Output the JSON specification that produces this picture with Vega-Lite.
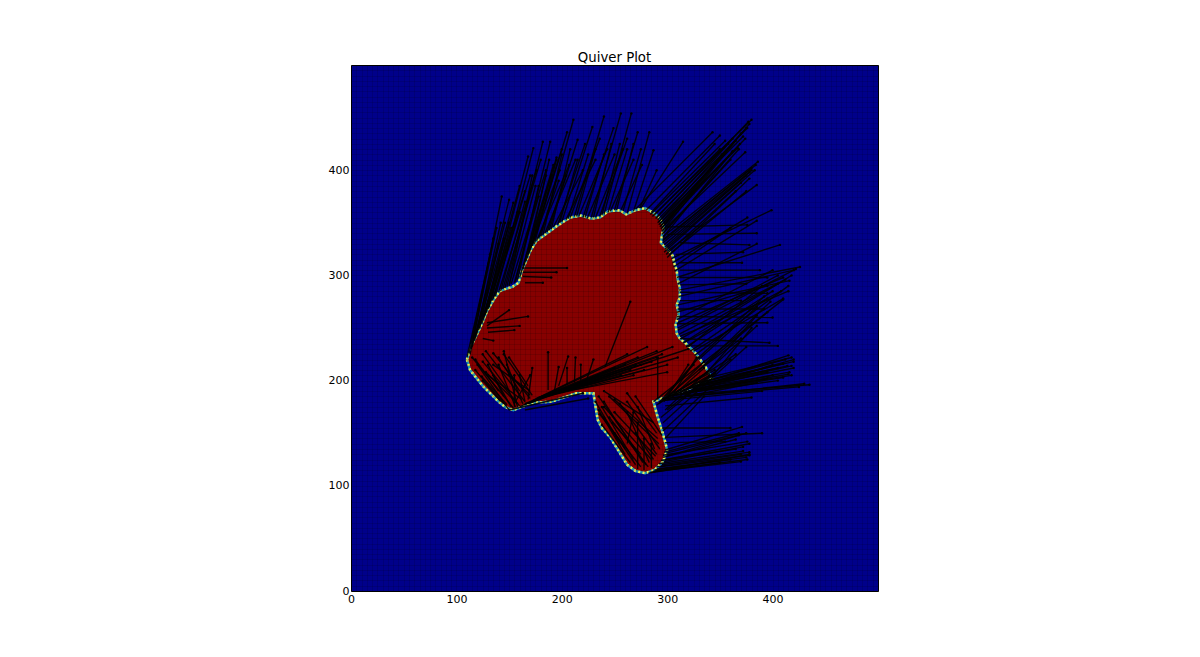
{"$schema":"https://vega.github.io/schema/vega-lite/v6.json","width":527,"height":526,"autosize":{"type":"none"},"padding":{"left":351,"top":65,"right":322,"bottom":66},"background":"white","title":{"text":"Quiver Plot","font":"DejaVu Sans","fontSize":13.3,"fontWeight":"normal","color":"black","offset":1},"view":{"fill":"#00008a","stroke":"black","strokeWidth":1},"datasets":{"outline":[{"i":1,"x":110,"y":220},{"i":2,"x":114,"y":233},{"i":3,"x":120,"y":245},{"i":4,"x":125,"y":256},{"i":5,"x":129,"y":266},{"i":6,"x":136,"y":278},{"i":7,"x":141,"y":285},{"i":8,"x":146,"y":287},{"i":9,"x":153,"y":289},{"i":10,"x":159,"y":293},{"i":11,"x":162,"y":304},{"i":12,"x":165,"y":311},{"i":13,"x":170,"y":323},{"i":14,"x":176,"y":333},{"i":15,"x":186,"y":340},{"i":16,"x":194,"y":346},{"i":17,"x":200,"y":350},{"i":18,"x":208,"y":355},{"i":19,"x":218,"y":357},{"i":20,"x":228,"y":354},{"i":21,"x":236,"y":355},{"i":22,"x":244,"y":361},{"i":23,"x":255,"y":362},{"i":24,"x":261,"y":358},{"i":25,"x":270,"y":362},{"i":26,"x":279,"y":364},{"i":27,"x":288,"y":359},{"i":28,"x":294,"y":353},{"i":29,"x":297,"y":346},{"i":30,"x":295,"y":338},{"i":31,"x":294,"y":331},{"i":32,"x":300,"y":325},{"i":33,"x":305,"y":319},{"i":34,"x":307,"y":311},{"i":35,"x":309,"y":305},{"i":36,"x":310,"y":296},{"i":37,"x":312,"y":288},{"i":38,"x":312,"y":279},{"i":39,"x":309,"y":272},{"i":40,"x":311,"y":263},{"i":41,"x":308,"y":253},{"i":42,"x":309,"y":245},{"i":43,"x":312,"y":240},{"i":44,"x":318,"y":235},{"i":45,"x":326,"y":227},{"i":46,"x":335,"y":215},{"i":47,"x":343,"y":202},{"i":48,"x":320,"y":192},{"i":49,"x":287,"y":180},{"i":50,"x":291,"y":165},{"i":51,"x":295,"y":153},{"i":52,"x":298,"y":142},{"i":53,"x":300,"y":134},{"i":54,"x":296,"y":123},{"i":55,"x":288,"y":115},{"i":56,"x":279,"y":112},{"i":57,"x":270,"y":114},{"i":58,"x":262,"y":120},{"i":59,"x":254,"y":133},{"i":60,"x":246,"y":146},{"i":61,"x":238,"y":155},{"i":62,"x":234,"y":163},{"i":63,"x":232,"y":175},{"i":64,"x":230,"y":188},{"i":65,"x":214,"y":188},{"i":66,"x":190,"y":180},{"i":67,"x":173,"y":179},{"i":68,"x":154,"y":172},{"i":69,"x":146,"y":175},{"i":70,"x":139,"y":181},{"i":71,"x":125,"y":195},{"i":72,"x":113,"y":210},{"i":73,"x":110,"y":220}],"arrows":[
{"x":113,"y":225,"x2":143,"y2":375},{"x":115,"y":232,"x2":150,"y2":372},{"x":117,"y":238,"x2":146,"y2":350},{"x":119,"y":244,"x2":154,"y2":369},{"x":121,"y":248,"x2":152,"y2":345},{"x":124,"y":254,"x2":158,"y2":360},{"x":126,"y":260,"x2":160,"y2":385},{"x":128,"y":264,"x2":165,"y2":380},{"x":131,"y":270,"x2":168,"y2":413},{"x":134,"y":276,"x2":170,"y2":395},{"x":137,"y":280,"x2":173,"y2":421},{"x":140,"y":284,"x2":176,"y2":400},{"x":144,"y":287,"x2":180,"y2":410},{"x":148,"y":290,"x2":182,"y2":427},{"x":152,"y":292,"x2":185,"y2":400},{"x":156,"y":294,"x2":189,"y2":427},{"x":160,"y":298,"x2":192,"y2":405},{"x":163,"y":306,"x2":195,"y2":412},{"x":166,"y":314,"x2":198,"y2":400},{"x":169,"y":322,"x2":200,"y2":420},{"x":172,"y":328,"x2":205,"y2":436},{"x":176,"y":333,"x2":207,"y2":405},{"x":180,"y":337,"x2":211,"y2":448},{"x":184,"y":340,"x2":213,"y2":410},{"x":188,"y":343,"x2":215,"y2":429},{"x":192,"y":346,"x2":220,"y2":400},{"x":196,"y":348,"x2":222,"y2":425},{"x":200,"y":351,"x2":229,"y2":441},{"x":204,"y":353,"x2":232,"y2":410},{"x":208,"y":355,"x2":236,"y2":430},{"x":212,"y":356,"x2":240,"y2":451},{"x":216,"y":356,"x2":243,"y2":420},{"x":220,"y":355,"x2":249,"y2":440},{"x":224,"y":354,"x2":250,"y2":415},{"x":228,"y":355,"x2":256,"y2":454},{"x":232,"y":355,"x2":258,"y2":420},{"x":236,"y":356,"x2":262,"y2":430},{"x":240,"y":358,"x2":266,"y2":454},{"x":246,"y":361,"x2":268,"y2":410},{"x":250,"y":362,"x2":272,"y2":436},{"x":256,"y":362,"x2":276,"y2":405},{"x":262,"y":359,"x2":283,"y2":436},{"x":268,"y":361,"x2":287,"y2":419},{"x":274,"y":364,"x2":290,"y2":400},
{"x":150,"y":291,"x2":175,"y2":385},{"x":155,"y":293,"x2":178,"y2":375},{"x":170,"y":325,"x2":190,"y2":395},{"x":178,"y":335,"x2":197,"y2":390},{"x":186,"y":341,"x2":204,"y2":395},{"x":122,"y":250,"x2":140,"y2":330},{"x":127,"y":262,"x2":145,"y2":335},
{"x":125,"y":258,"x2":150,"y2":350},{"x":130,"y":268,"x2":152,"y2":340},{"x":135,"y":278,"x2":160,"y2":360},{"x":142,"y":285,"x2":165,"y2":370},{"x":146,"y":288,"x2":170,"y2":380},{"x":150,"y":290,"x2":172,"y2":395},{"x":158,"y":296,"x2":178,"y2":385},{"x":164,"y":310,"x2":185,"y2":395},{"x":168,"y":320,"x2":188,"y2":410},{"x":174,"y":330,"x2":195,"y2":410},{"x":182,"y":338,"x2":200,"y2":415},{"x":190,"y":344,"x2":208,"y2":420},{"x":198,"y":350,"x2":215,"y2":410},{"x":206,"y":354,"x2":225,"y2":415},{"x":214,"y":356,"x2":232,"y2":420},{"x":222,"y":355,"x2":240,"y2":415},{"x":230,"y":355,"x2":247,"y2":425},{"x":238,"y":357,"x2":255,"y2":425},{"x":244,"y":360,"x2":262,"y2":420},{"x":252,"y":362,"x2":268,"y2":425},{"x":258,"y":361,"x2":275,"y2":420},{"x":110,"y":222,"x2":132,"y2":320},{"x":112,"y":226,"x2":135,"y2":335},{"x":114,"y":230,"x2":138,"y2":345},{"x":118,"y":240,"x2":142,"y2":350},
{"x":275,"y":364,"x2":315,"y2":427},{"x":270,"y":363,"x2":343,"y2":436},{"x":280,"y":362,"x2":350,"y2":433},{"x":285,"y":360,"x2":345,"y2":425},{"x":288,"y":358,"x2":380,"y2":448},{"x":290,"y":355,"x2":377,"y2":446},{"x":291,"y":353,"x2":376,"y2":440},{"x":292,"y":351,"x2":372,"y2":432},{"x":293,"y":349,"x2":367,"y2":421},{"x":294,"y":347,"x2":374,"y2":430},{"x":295,"y":345,"x2":369,"y2":425},{"x":296,"y":343,"x2":374,"y2":417},{"x":296,"y":340,"x2":360,"y2":410},{"x":296,"y":337,"x2":386,"y2":408},{"x":296,"y":334,"x2":384,"y2":405},{"x":296,"y":331,"x2":380,"y2":400},{"x":298,"y":327,"x2":378,"y2":398},{"x":300,"y":323,"x2":385,"y2":386},{"x":302,"y":320,"x2":375,"y2":380},{"x":304,"y":316,"x2":399,"y2":362},{"x":305,"y":312,"x2":376,"y2":355},{"x":306,"y":308,"x2":360,"y2":345},{"x":307,"y":304,"x2":385,"y2":352},{"x":309,"y":298,"x2":407,"y2":329},{"x":310,"y":292,"x2":385,"y2":330},{"x":311,"y":286,"x2":426,"y2":308},{"x":311,"y":280,"x2":420,"y2":305},{"x":310,"y":272,"x2":416,"y2":295},{"x":309,"y":265,"x2":395,"y2":290},{"x":309,"y":258,"x2":400,"y2":305},{"x":310,"y":250,"x2":405,"y2":300},{"x":312,"y":242,"x2":415,"y2":285},{"x":316,"y":236,"x2":408,"y2":285},{"x":320,"y":232,"x2":390,"y2":290},{"x":325,"y":228,"x2":410,"y2":278},{"x":330,"y":222,"x2":392,"y2":280},{"x":287,"y":180,"x2":410,"y2":277},{"x":292,"y":178,"x2":395,"y2":265},{"x":298,"y":172,"x2":385,"y2":252},{"x":296,"y":160,"x2":375,"y2":232},{"x":300,"y":172,"x2":360,"y2":220},
{"x":292,"y":348,"x2":375,"y2":440},{"x":293,"y":346,"x2":370,"y2":435},{"x":294,"y":344,"x2":378,"y2":444},{"x":295,"y":342,"x2":365,"y2":428},{"x":295,"y":339,"x2":368,"y2":420},{"x":296,"y":336,"x2":362,"y2":418},{"x":297,"y":348,"x2":352,"y2":415},{"x":291,"y":350,"x2":358,"y2":425},{"x":289,"y":354,"x2":362,"y2":430},{"x":286,"y":356,"x2":350,"y2":420},{"x":284,"y":358,"x2":355,"y2":428},
{"x":296,"y":333,"x2":380,"y2":402},{"x":297,"y":329,"x2":375,"y2":395},{"x":298,"y":325,"x2":383,"y2":400},{"x":297,"y":322,"x2":370,"y2":388},{"x":299,"y":320,"x2":365,"y2":380},{"x":300,"y":317,"x2":378,"y2":392},
{"x":310,"y":255,"x2":410,"y2":298},{"x":310,"y":248,"x2":422,"y2":306},{"x":311,"y":244,"x2":412,"y2":296},{"x":313,"y":240,"x2":405,"y2":292},{"x":315,"y":236,"x2":418,"y2":300},{"x":318,"y":232,"x2":400,"y2":285},{"x":322,"y":228,"x2":395,"y2":278},{"x":326,"y":224,"x2":415,"y2":290},{"x":330,"y":220,"x2":385,"y2":270},{"x":334,"y":214,"x2":398,"y2":275},{"x":338,"y":208,"x2":385,"y2":262},{"x":342,"y":203,"x2":380,"y2":250},{"x":330,"y":210,"x2":370,"y2":240},
{"x":300,"y":346,"x2":376,"y2":348},{"x":300,"y":339,"x2":385,"y2":340},{"x":312,"y":331,"x2":378,"y2":329},{"x":308,"y":320,"x2":372,"y2":322},{"x":312,"y":312,"x2":371,"y2":312},{"x":312,"y":305,"x2":388,"y2":305},{"x":312,"y":298,"x2":395,"y2":298},{"x":312,"y":291,"x2":375,"y2":292},{"x":312,"y":284,"x2":395,"y2":283},{"x":312,"y":276,"x2":370,"y2":276},{"x":310,"y":268,"x2":392,"y2":268},{"x":309,"y":261,"x2":400,"y2":260},{"x":309,"y":254,"x2":395,"y2":255},{"x":312,"y":240,"x2":397,"y2":236},{"x":318,"y":233,"x2":405,"y2":233},
{"x":340,"y":203,"x2":418,"y2":222},{"x":338,"y":200,"x2":420,"y2":218},{"x":335,"y":198,"x2":415,"y2":224},{"x":332,"y":196,"x2":414,"y2":214},{"x":328,"y":194,"x2":420,"y2":212},{"x":324,"y":192,"x2":416,"y2":208},{"x":320,"y":190,"x2":418,"y2":205},{"x":316,"y":189,"x2":395,"y2":208},{"x":312,"y":187,"x2":410,"y2":203},{"x":308,"y":186,"x2":435,"y2":196},{"x":304,"y":184,"x2":425,"y2":194},{"x":300,"y":183,"x2":430,"y2":197},{"x":296,"y":181,"x2":390,"y2":190},{"x":292,"y":180,"x2":385,"y2":198},{"x":325,"y":190,"x2":400,"y2":215},{"x":315,"y":188,"x2":405,"y2":200},{"x":298,"y":176,"x2":380,"y2":184},{"x":290,"y":177,"x2":365,"y2":225},{"x":294,"y":165,"x2":345,"y2":207},{"x":296,"y":152,"x2":342,"y2":195},{"x":298,"y":145,"x2":335,"y2":185},
{"x":310,"y":190,"x2":418,"y2":214},{"x":318,"y":192,"x2":420,"y2":220},{"x":322,"y":194,"x2":410,"y2":216},{"x":330,"y":198,"x2":412,"y2":220},{"x":305,"y":186,"x2":400,"y2":205},{"x":300,"y":185,"x2":395,"y2":202},{"x":326,"y":191,"x2":415,"y2":206},{"x":335,"y":197,"x2":405,"y2":212},
{"x":295,"y":155,"x2":360,"y2":155},{"x":298,"y":146,"x2":390,"y2":150},{"x":298,"y":141,"x2":355,"y2":142},{"x":298,"y":134,"x2":371,"y2":156},{"x":299,"y":131,"x2":375,"y2":150},{"x":299,"y":128,"x2":368,"y2":148},{"x":298,"y":125,"x2":378,"y2":140},{"x":297,"y":123,"x2":372,"y2":137},{"x":295,"y":120,"x2":378,"y2":132},{"x":293,"y":118,"x2":378,"y2":129},{"x":290,"y":116,"x2":375,"y2":127},{"x":287,"y":114,"x2":376,"y2":125},{"x":284,"y":113,"x2":370,"y2":123},{"x":296,"y":127,"x2":365,"y2":144},
{"x":290,"y":118,"x2":370,"y2":130},{"x":292,"y":121,"x2":372,"y2":133},{"x":294,"y":124,"x2":365,"y2":135},{"x":288,"y":115,"x2":360,"y2":125},{"x":296,"y":129,"x2":376,"y2":142},{"x":297,"y":132,"x2":368,"y2":150},{"x":286,"y":113,"x2":378,"y2":130},{"x":282,"y":112,"x2":350,"y2":122},
{"x":154,"y":174,"x2":115,"y2":222},{"x":145,"y":178,"x2":118,"y2":210},{"x":160,"y":176,"x2":125,"y2":218},{"x":165,"y":180,"x2":128,"y2":228},{"x":170,"y":183,"x2":135,"y2":226},{"x":152,"y":175,"x2":135,"y2":205},{"x":148,"y":177,"x2":124,"y2":204},{"x":142,"y":180,"x2":125,"y2":200},{"x":158,"y":175,"x2":145,"y2":228},{"x":156,"y":175,"x2":140,"y2":215},{"x":163,"y":178,"x2":148,"y2":215},{"x":155,"y":175,"x2":155,"y2":205},{"x":165,"y":180,"x2":160,"y2":205},{"x":168,"y":182,"x2":172,"y2":212},{"x":170,"y":186,"x2":150,"y2":205},{"x":155,"y":178,"x2":170,"y2":205},{"x":140,"y":190,"x2":118,"y2":220},{"x":160,"y":190,"x2":140,"y2":222},
{"x":150,"y":172,"x2":120,"y2":215},{"x":158,"y":178,"x2":128,"y2":208},{"x":170,"y":190,"x2":135,"y2":215},{"x":172,"y":186,"x2":145,"y2":225},{"x":162,"y":182,"x2":130,"y2":205},{"x":150,"y":190,"x2":125,"y2":225},{"x":145,"y":185,"x2":130,"y2":215},{"x":168,"y":195,"x2":150,"y2":222},
{"x":187,"y":191,"x2":187,"y2":227},{"x":193,"y":190,"x2":197,"y2":213},{"x":197,"y":195,"x2":206,"y2":223},{"x":205,"y":196,"x2":205,"y2":212},{"x":212,"y":198,"x2":213,"y2":222},{"x":218,"y":200,"x2":218,"y2":215},{"x":224,"y":202,"x2":230,"y2":220},{"x":241,"y":213,"x2":265,"y2":275},
{"x":129,"y":255,"x2":168,"y2":261},{"x":129,"y":250,"x2":160,"y2":252},{"x":129,"y":252,"x2":150,"y2":267},{"x":130,"y":246,"x2":155,"y2":248},{"x":125,"y":240,"x2":135,"y2":238},{"x":163,"y":307,"x2":205,"y2":307},{"x":163,"y":303,"x2":195,"y2":303},{"x":163,"y":299,"x2":190,"y2":298},{"x":165,"y":293,"x2":182,"y2":293},
{"x":160,"y":175,"x2":281,"y2":232},{"x":168,"y":178,"x2":305,"y2":232},{"x":172,"y":181,"x2":262,"y2":225},{"x":176,"y":183,"x2":272,"y2":222},{"x":180,"y":184,"x2":320,"y2":230},{"x":184,"y":186,"x2":290,"y2":222},{"x":188,"y":187,"x2":300,"y2":215},{"x":192,"y":187,"x2":285,"y2":218},{"x":196,"y":188,"x2":278,"y2":210},{"x":200,"y":189,"x2":300,"y2":208},{"x":170,"y":179,"x2":250,"y2":212},{"x":164,"y":177,"x2":245,"y2":205},{"x":178,"y":183,"x2":256,"y2":205},{"x":186,"y":185,"x2":268,"y2":205},{"x":150,"y":172,"x2":220,"y2":188},{"x":165,"y":172,"x2":225,"y2":183},
{"x":175,"y":182,"x2":290,"y2":228},{"x":182,"y":185,"x2":295,"y2":225},{"x":190,"y":187,"x2":310,"y2":222},{"x":178,"y":184,"x2":270,"y2":215},{"x":185,"y":186,"x2":275,"y2":215},{"x":172,"y":180,"x2":260,"y2":215},{"x":165,"y":178,"x2":235,"y2":205},{"x":195,"y":188,"x2":265,"y2":210},
{"x":285,"y":125,"x2":240,"y2":175},{"x":275,"y":118,"x2":236,"y2":168},{"x":265,"y":122,"x2":238,"y2":158},{"x":280,"y":120,"x2":235,"y2":185},{"x":290,"y":130,"x2":255,"y2":178},{"x":292,"y":140,"x2":245,"y2":185},{"x":290,"y":150,"x2":262,"y2":188},{"x":287,"y":160,"x2":240,"y2":190},{"x":270,"y":120,"x2":250,"y2":150},{"x":278,"y":115,"x2":278,"y2":145},{"x":285,"y":117,"x2":285,"y2":140},{"x":272,"y":116,"x2":272,"y2":160},{"x":283,"y":122,"x2":262,"y2":170},{"x":260,"y":130,"x2":235,"y2":172},{"x":288,"y":135,"x2":272,"y2":175},{"x":255,"y":140,"x2":232,"y2":180},{"x":262,"y":140,"x2":268,"y2":170},
{"x":282,"y":118,"x2":245,"y2":165},{"x":277,"y":122,"x2":240,"y2":180},{"x":268,"y":125,"x2":238,"y2":175},{"x":289,"y":128,"x2":250,"y2":170},{"x":293,"y":135,"x2":262,"y2":180},{"x":291,"y":145,"x2":250,"y2":182},{"x":287,"y":125,"x2":270,"y2":150},{"x":275,"y":130,"x2":248,"y2":160},{"x":295,"y":148,"x2":270,"y2":185},{"x":260,"y":135,"x2":240,"y2":165},
{"x":291,"y":182,"x2":291,"y2":222},{"x":295,"y":182,"x2":345,"y2":210},{"x":293,"y":180,"x2":330,"y2":222},{"x":297,"y":180,"x2":320,"y2":215},{"x":300,"y":182,"x2":340,"y2":205},{"x":305,"y":185,"x2":335,"y2":212},{"x":298,"y":183,"x2":338,"y2":200},{"x":310,"y":190,"x2":338,"y2":208},{"x":300,"y":184,"x2":335,"y2":218},{"x":306,"y":188,"x2":328,"y2":222},{"x":312,"y":188,"x2":342,"y2":205},{"x":296,"y":182,"x2":325,"y2":215}
]},"layer":[{"data":{"name":"outline"},"mark":{"type":"line","fill":"#860000","stroke":"#860000","strokeWidth":1,"interpolate":"linear"},"encoding":{"x":{"field":"x","type":"quantitative","scale":{"domain":[0,500],"nice":false},"axis":{"orient":"bottom","values":[0,100,200,300,400],"grid":false,"ticks":false,"domain":false,"labelFont":"DejaVu Sans","labelFontSize":11,"labelColor":"black","labelPadding":2,"labelFlush":false,"title":null}},"y":{"field":"y","type":"quantitative","scale":{"domain":[0,500],"nice":false},"axis":{"orient":"left","values":[0,100,200,300,400],"grid":false,"ticks":false,"domain":false,"labelFont":"DejaVu Sans","labelFontSize":11,"labelColor":"black","labelPadding":2,"labelFlush":false,"title":null}},"order":{"field":"i","type":"quantitative"}}},{"data":{"name":"outline"},"mark":{"type":"line","stroke":"#18b8d0","strokeWidth":2.5,"opacity":0.85},"encoding":{"x":{"field":"x","type":"quantitative","axis":null},"y":{"field":"y","type":"quantitative","axis":null},"order":{"field":"i","type":"quantitative"}}},{"data":{"name":"outline"},"mark":{"type":"line","stroke":"#f2f050","strokeWidth":2.5,"strokeDash":[2,2.5]},"encoding":{"x":{"field":"x","type":"quantitative","axis":null},"y":{"field":"y","type":"quantitative","axis":null},"order":{"field":"i","type":"quantitative"}}},{"data":{"name":"arrows"},"mark":{"type":"rule","color":"black","strokeWidth":1.4,"opacity":0.9},"encoding":{"x":{"field":"x","type":"quantitative","axis":null},"y":{"field":"y","type":"quantitative","axis":null},"x2":{"field":"x2"},"y2":{"field":"y2"}}},{"data":{"name":"arrows"},"mark":{"type":"point","shape":"circle","filled":true,"color":"black","size":6,"opacity":1},"encoding":{"x":{"field":"x2","type":"quantitative","axis":{"orient":"bottom","values":[0,5,10,15,20,25,30,35,40,45,50,55,60,65,70,75,80,85,90,95,100,105,110,115,120,125,130,135,140,145,150,155,160,165,170,175,180,185,190,195,200,205,210,215,220,225,230,235,240,245,250,255,260,265,270,275,280,285,290,295,300,305,310,315,320,325,330,335,340,345,350,355,360,365,370,375,380,385,390,395,400,405,410,415,420,425,430,435,440,445,450,455,460,465,470,475,480,485,490,495,500],"grid":true,"gridColor":"black","gridOpacity":0.12,"gridWidth":1,"labels":false,"ticks":false,"domain":false,"title":null,"zindex":1}},"y":{"field":"y2","type":"quantitative","axis":{"orient":"left","values":[0,5,10,15,20,25,30,35,40,45,50,55,60,65,70,75,80,85,90,95,100,105,110,115,120,125,130,135,140,145,150,155,160,165,170,175,180,185,190,195,200,205,210,215,220,225,230,235,240,245,250,255,260,265,270,275,280,285,290,295,300,305,310,315,320,325,330,335,340,345,350,355,360,365,370,375,380,385,390,395,400,405,410,415,420,425,430,435,440,445,450,455,460,465,470,475,480,485,490,495,500],"grid":true,"gridColor":"black","gridOpacity":0.12,"gridWidth":1,"labels":false,"ticks":false,"domain":false,"title":null,"zindex":1}}}}],"resolve":{"axis":{"x":"independent","y":"independent"}}}
